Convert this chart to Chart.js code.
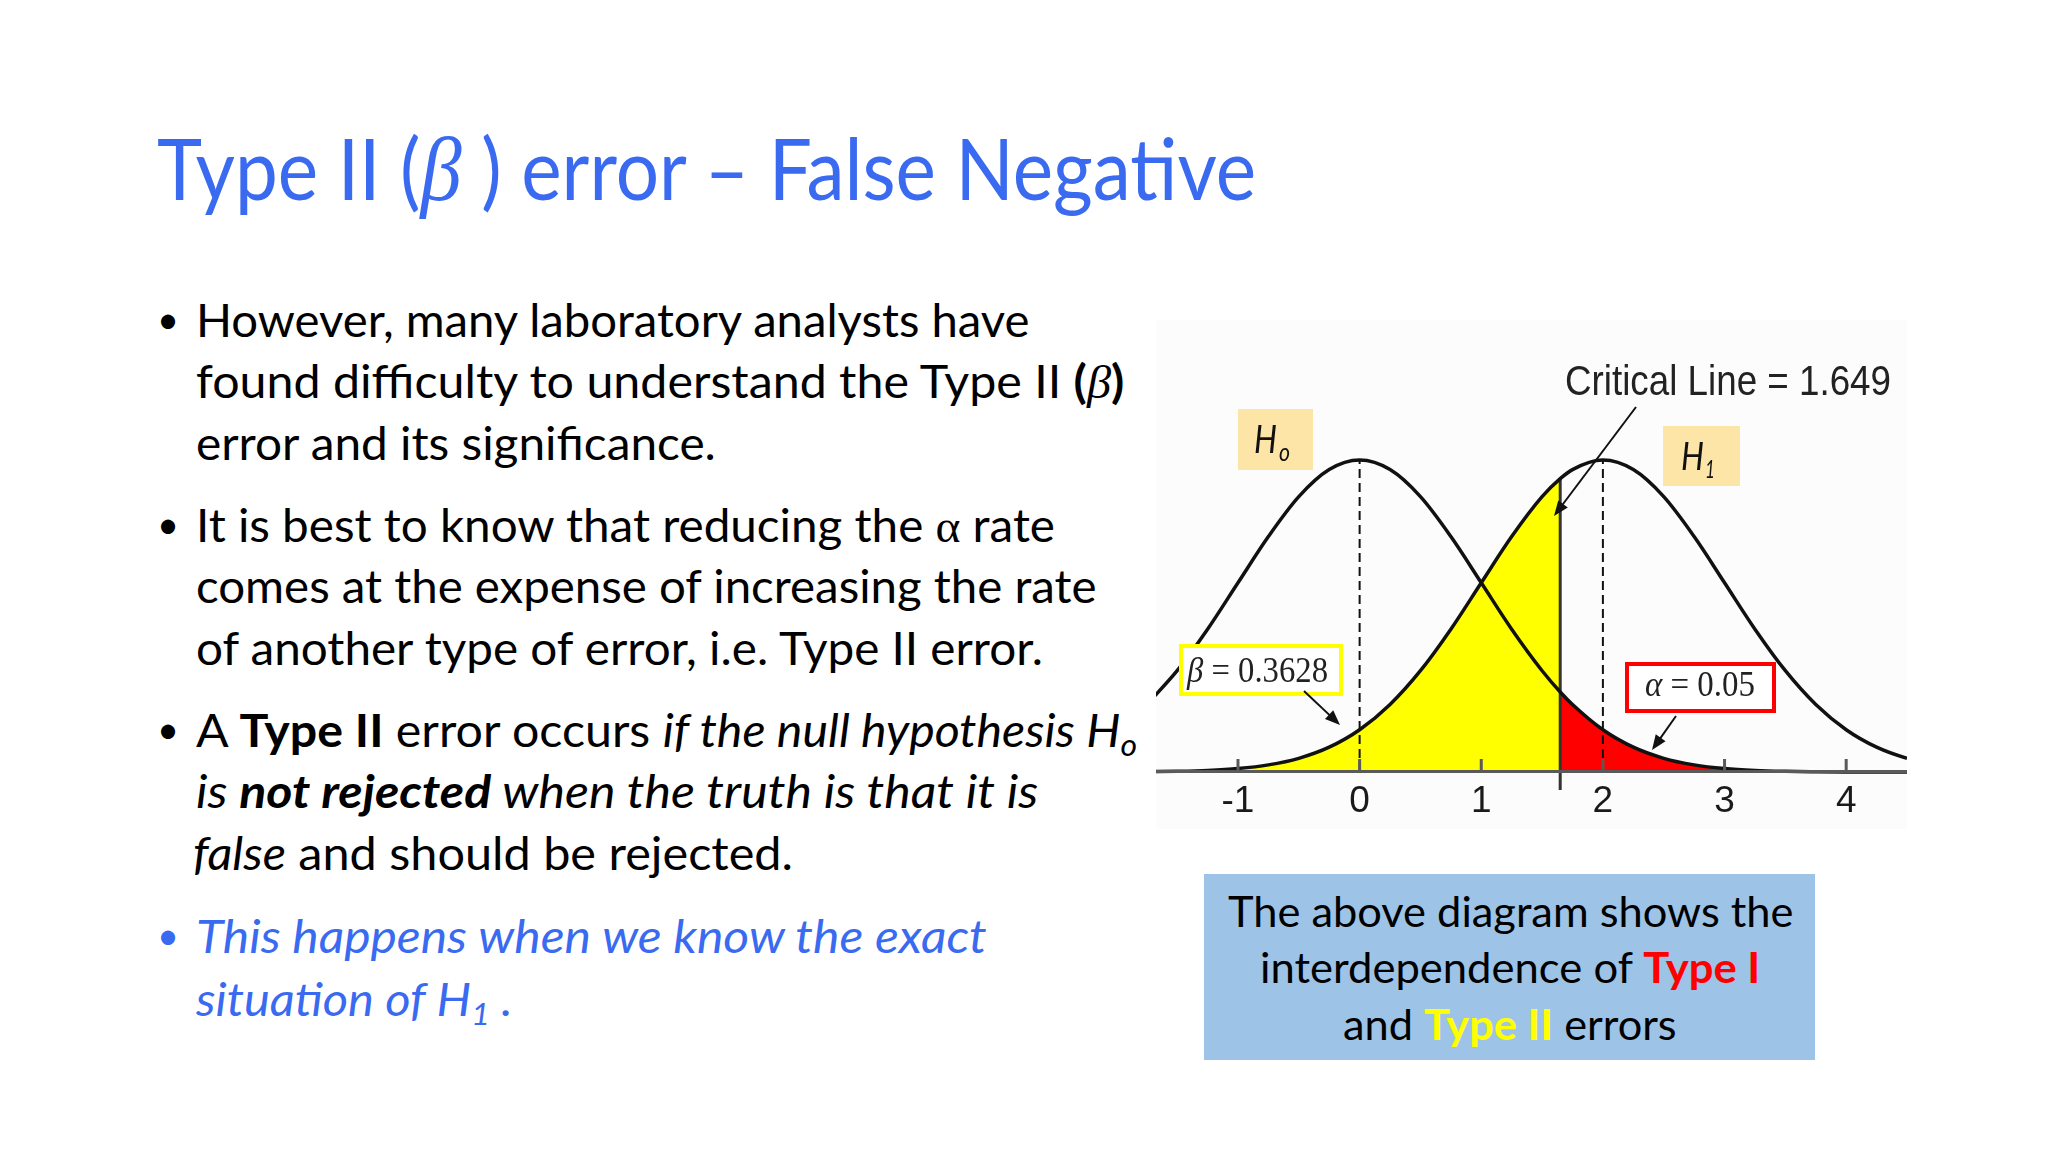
<!DOCTYPE html>
<html>
<head>
<meta charset="utf-8">
<script src="https://cdn.jsdelivr.net/npm/chart.js@4.4.1/dist/chart.umd.min.js"></script>
<style>
  html, body { margin: 0; padding: 0; background: #fff; }
  #slide { position: relative; width: 2048px; height: 1152px; overflow: hidden; background: #fff;
           font-family: 'Lato', 'Open Sans', sans-serif; color: #000; }
  .ln { position: absolute; left: 0; top: 0; white-space: nowrap; display: inline-block; line-height: 1.2; transform-origin: 0 0; }
  .t { font-size: 85px; color: #3a6af0; }
  .p { font-size: 46px; }
  .dot { font-size: 38px; }
  .c { font-size: 42px; transform-origin: 50% 0; }
  .blue { color: #3a6af0; font-style: italic; }
  .gr { font-family: 'Liberation Serif', serif; font-style: italic; }
  .t .gr { font-size: 1.08em; }
  .al { font-family: 'Liberation Serif', serif; }
  .ln sub { font-size: 0.66em; vertical-align: -0.3em; line-height: 0; }
  .bl { display: inline-block; width: 0; height: 0; vertical-align: baseline; }
  #panel { position: absolute; left: 1156px; top: 320px; width: 751px; height: 509px; }
  #note { position: absolute; left: 1204px; top: 874px; width: 611px; height: 186px; background: #9dc3e6; }
  .red { color: #ff0000; font-weight: bold; }
  .yel { color: #ffff00; font-weight: bold; }
</style>
</head>
<body>
<div id="slide">
  <div class="ln t" data-x="157" data-base="200" data-w="1099">Type II (<span class="gr">β</span> ) error – False Negative<span class="bl"></span></div>

  <div class="ln dot" data-x="157" data-base="333">•<span class="bl"></span></div>
  <div class="ln p" data-x="196" data-base="337" data-w="834">However, many laboratory analysts have<span class="bl"></span></div>
  <div class="ln p" data-x="196" data-base="398" data-w="928">found difficulty to understand the Type II <b>(</b><span class="gr">β</span><b>)</b><span class="bl"></span></div>
  <div class="ln p" data-x="196" data-base="460" data-w="520">error and its significance.<span class="bl"></span></div>

  <div class="ln dot" data-x="157" data-base="538">•<span class="bl"></span></div>
  <div class="ln p" data-x="196" data-base="542" data-w="859">It is best to know that reducing the <span class="al">α</span> rate<span class="bl"></span></div>
  <div class="ln p" data-x="196" data-base="603" data-w="901">comes at the expense of increasing the rate<span class="bl"></span></div>
  <div class="ln p" data-x="196" data-base="665" data-w="847">of another type of error, i.e. Type II error.<span class="bl"></span></div>

  <div class="ln dot" data-x="157" data-base="743">•<span class="bl"></span></div>
  <div class="ln p" data-x="196" data-base="747" data-w="941">A <b>Type II</b> error occurs <i>if the null hypothesis H<sub>o</sub></i><span class="bl"></span></div>
  <div class="ln p" data-x="196" data-base="808" data-w="842"><i>is <b>not rejected</b> when the truth is that it is</i><span class="bl"></span></div>
  <div class="ln p" data-x="193" data-base="870" data-w="600"><i>false</i> and should be rejected.<span class="bl"></span></div>

  <div class="ln dot blue" data-x="157" data-base="949" style="font-style:normal">•<span class="bl"></span></div>
  <div class="ln p blue" data-x="196" data-base="953" data-w="791">This happens when we know the exact<span class="bl"></span></div>
  <div class="ln p blue" data-x="196" data-base="1016" data-w="317">situation of H<sub>1</sub> .<span class="bl"></span></div>

  <div id="panel"><canvas id="errorChart"></canvas></div>

  <div id="note"></div>
  <div class="ln c" data-cx="1510" data-base="927" data-w="565">The above diagram shows the<span class="bl"></span></div>
  <div class="ln c" data-cx="1510" data-base="983" data-w="500">interdependence of <span class="red">Type I</span><span class="bl"></span></div>
  <div class="ln c" data-cx="1510" data-base="1040" data-w="334">and <span class="yel">Type II</span> errors<span class="bl"></span></div>
</div>

<script>
// values (densities of the two curves)
const X_VALUES = [-1.75, -1.5, -1.25, -1, -0.75, -0.5, -0.25, 0, 0.25, 0.5, 0.75, 1, 1.25, 1.5, 1.649,
                  1.75, 2, 2.25, 2.5, 2.75, 3, 3.25, 3.5, 3.75, 4, 4.25, 4.5, 4.75];
const H0_DENSITY = [0.0863, 0.1295, 0.1826, 0.2420, 0.3011, 0.3521, 0.3867, 0.3989, 0.3867, 0.3521, 0.3011,
                    0.2420, 0.1826, 0.1295, 0.1023, 0.0863, 0.0540, 0.0317, 0.0175, 0.0091, 0.0044, 0.0020,
                    0.0009, 0.0004, 0.0001, 0.0000, 0.0000, 0.0000];
const H1_DENSITY = [0.0004, 0.0009, 0.0020, 0.0044, 0.0091, 0.0175, 0.0317, 0.0540, 0.0863, 0.1295, 0.1826,
                    0.2420, 0.3011, 0.3521, 0.3751, 0.3867, 0.3989, 0.3867, 0.3521, 0.3011, 0.2420, 0.1826,
                    0.1295, 0.0863, 0.0540, 0.0317, 0.0175, 0.0091];
const X_TICKS = [-1, 0, 1, 2, 3, 4];
const MEANS = [0, 2];
const CRITICAL = 1.649;
const BETA = 0.3628;
const ALPHA = 0.05;

function placeLines() {
    document.querySelectorAll('.ln').forEach(el => {
        el.style.transform = 'none';
        const mark = el.querySelector('.bl');
        const w = el.offsetWidth;
        const base = mark.offsetTop;
        el.style.top = (Number(el.dataset.base) - base) + 'px';
        if (el.dataset.cx) {
            el.style.left = (Number(el.dataset.cx) - w / 2) + 'px';
        } else {
            el.style.left = el.dataset.x + 'px';
        }
        if (el.dataset.w) {
            el.style.transform = `scaleX(${Number(el.dataset.w) / w})`;
        }
    });
}

function drawArrow(ctx, x1, y1, x2, y2) {
    const ang = Math.atan2(y2 - y1, x2 - x1);
    ctx.save();
    ctx.strokeStyle = '#111';
    ctx.fillStyle = '#111';
    ctx.lineWidth = 2;
    ctx.beginPath();
    ctx.moveTo(x1, y1);
    ctx.lineTo(x2 - 10 * Math.cos(ang), y2 - 10 * Math.sin(ang));
    ctx.stroke();
    ctx.beginPath();
    ctx.moveTo(x2, y2);
    ctx.lineTo(x2 - 15 * Math.cos(ang) + 6 * Math.sin(ang), y2 - 15 * Math.sin(ang) - 6 * Math.cos(ang));
    ctx.lineTo(x2 - 15 * Math.cos(ang) - 6 * Math.sin(ang), y2 - 15 * Math.sin(ang) + 6 * Math.cos(ang));
    ctx.closePath();
    ctx.fill();
    ctx.restore();
}

// pieces: [text, font]; squeezed to the width seen in the picture
function drawFitText(ctx, pieces, x, y, width, color) {
    ctx.save();
    let total = 0;
    pieces.forEach(p => { ctx.font = p[1]; total += ctx.measureText(p[0]).width; });
    ctx.translate(x, y);
    ctx.scale(width / total, 1);
    ctx.fillStyle = color;
    ctx.textBaseline = 'alphabetic';
    let cx = 0;
    pieces.forEach(p => {
        ctx.font = p[1];
        ctx.fillText(p[0], cx, 0);
        cx += ctx.measureText(p[0]).width;
    });
    ctx.restore();
}

function drawLabelBox(ctx, x, y, w, h, fill, border) {
    ctx.save();
    ctx.fillStyle = fill;
    ctx.fillRect(x, y, w, h);
    if (border) {
        ctx.strokeStyle = border;
        ctx.lineWidth = 4;
        ctx.strokeRect(x + 2, y + 2, w - 4, h - 4);
    }
    ctx.restore();
}

const panelPlugin = {
    id: 'panelPlugin',
    beforeDraw(chart) {
        const ctx = chart.ctx;
        ctx.save();
        ctx.fillStyle = '#fcfcfd';
        ctx.fillRect(0, 0, chart.width, chart.height);
        ctx.restore();
    },
    afterDraw(chart) {
        const ctx = chart.ctx;
        const xs = chart.scales.x;
        const y0 = chart.scales.y.getPixelForValue(0);

        // small upward tick marks on the axis
        ctx.save();
        ctx.strokeStyle = '#5a5a5a';
        ctx.lineWidth = 3;
        X_TICKS.forEach(v => {
            const px = xs.getPixelForValue(v);
            ctx.beginPath();
            ctx.moveTo(px, y0);
            ctx.lineTo(px, y0 - 13);
            ctx.stroke();
        });
        ctx.restore();

        const narrow = "'Liberation Sans', sans-serif";
        drawFitText(ctx, [['Critical Line = ' + CRITICAL, '42px ' + narrow]], 409, 75, 326, '#222');
        drawArrow(ctx, 480, 87, 398, 196);

        drawLabelBox(ctx, 82, 89, 75, 61, '#fce5a7');
        drawFitText(ctx, [['H', 'italic 38px Lato']], 98, 133, 23, '#111');
        drawFitText(ctx, [['o', 'italic 26px Lato']], 123, 141, 11, '#111');
        drawLabelBox(ctx, 507, 106, 77, 60, '#fce5a7');
        drawFitText(ctx, [['H', 'italic 38px Lato']], 525, 150, 23, '#111');
        drawFitText(ctx, [['1', 'italic 26px Lato']], 549, 158, 10, '#111');

        drawLabelBox(ctx, 23, 324, 164, 52, '#ffffff', '#ffff00');
        drawFitText(ctx, [['β', "italic 35px 'Liberation Serif'"], [' = ' + BETA, "35px 'Liberation Serif'"]], 31, 362, 141, '#222');
        drawArrow(ctx, 148, 371, 184, 405);

        drawLabelBox(ctx, 469, 342, 151, 51, '#ffffff', '#ff0000');
        drawFitText(ctx, [['α', "italic 35px 'Liberation Serif'"], [' = ' + ALPHA, "35px 'Liberation Serif'"]], 489, 376, 110, '#222');
        drawArrow(ctx, 520, 396, 496, 430);
    }
};

const h0Points = X_VALUES.map((x, i) => ({ x: x, y: H0_DENSITY[i] }));
const h1Points = X_VALUES.map((x, i) => ({ x: x, y: H1_DENSITY[i] }));
const betaArea = h1Points.filter(p => p.x <= CRITICAL);
const alphaArea = h0Points.filter(p => p.x >= CRITICAL);
const critTop = H1_DENSITY[X_VALUES.indexOf(CRITICAL)];
const meanLines = MEANS.map((m, i) => {
    const peak = (i === 0 ? H0_DENSITY : H1_DENSITY)[X_VALUES.indexOf(m)];
    return {
        label: 'mean ' + m,
        data: [{ x: m, y: 0 }, { x: m, y: peak }],
        showLine: true,
        borderColor: '#111',
        borderWidth: 2,
        borderDash: [9, 5],
        pointRadius: 0
    };
});

function curve(label, points) {
    return {
        label: label,
        data: points,
        showLine: true,
        borderColor: '#111',
        borderWidth: 3.5,
        pointRadius: 0,
        cubicInterpolationMode: 'monotone',
        fill: false
    };
}

function area(label, points, color) {
    return {
        label: label,
        data: points,
        showLine: true,
        borderWidth: 0,
        borderColor: color,
        backgroundColor: color,
        pointRadius: 0,
        cubicInterpolationMode: 'monotone',
        fill: 'origin'
    };
}

function drawChart() {
    const ctx = document.getElementById('errorChart').getContext('2d');
    return new Chart(ctx, {
        type: 'scatter',
        data: {
            datasets: [
                curve('H0', h0Points),
                curve('H1', h1Points),
                ...meanLines,
                {
                    label: 'Critical Line',
                    data: [{ x: CRITICAL, y: -0.023 }, { x: CRITICAL, y: critTop }],
                    showLine: true,
                    borderColor: '#333',
                    borderWidth: 3,
                    pointRadius: 0
                },
                area('beta', betaArea, '#ffff00'),
                area('alpha', alphaArea, '#ff0000')
            ]
        },
        options: {
            responsive: true,
            maintainAspectRatio: false,
            animation: false,
            devicePixelRatio: 1,
            layout: { padding: 0 },
            plugins: {
                legend: { display: false },
                tooltip: { enabled: false }
            },
            scales: {
                x: {
                    type: 'linear',
                    min: -1.674,
                    max: 4.50,
                    position: { y: 0 },
                    afterBuildTicks: scale => { scale.ticks = X_TICKS.map(v => ({ value: v })); },
                    grid: { display: false, drawTicks: false },
                    border: { display: true, color: '#5a5a5a', width: 3, z: 1 },
                    ticks: {
                        font: { family: "'Liberation Sans', sans-serif", size: 37 },
                        color: '#1a1a1a',
                        padding: 8
                    }
                },
                y: { display: false, min: -0.0729, max: 0.578 }
            }
        },
        plugins: [panelPlugin]
    });
}

placeLines();
drawChart();
document.fonts.ready.then(placeLines);
</script>
</body>
</html>
